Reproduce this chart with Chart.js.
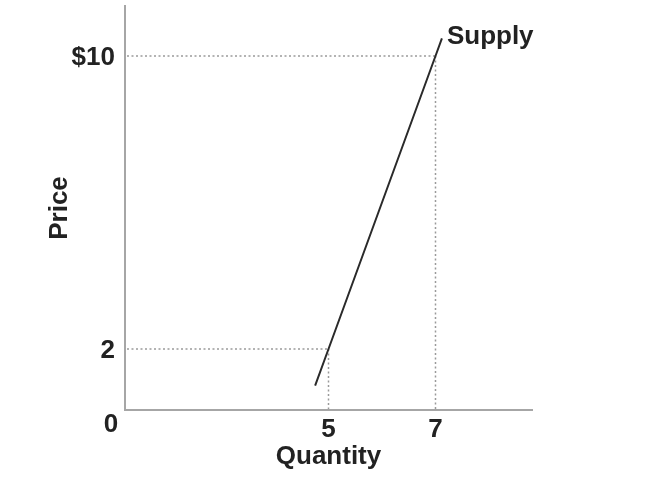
<!DOCTYPE html>
<html>
<head>
<meta charset="utf-8">
<script src="https://cdn.jsdelivr.net/npm/chart.js@4"></script>
<style>
html,body{margin:0;padding:0;background:#fff;}
#wrap{width:655px;height:479px;}
</style>
</head>
<body>
<div id="wrap"><canvas id="c" width="655" height="479"></canvas></div>
<script>
// ---- data ----
const supplyQuantity = [4.75, 5, 7, 7.12];
const supplyPrice    = [1.0, 2, 10, 10.48];
const guideQuantity  = [5, 7];
const guidePrice     = [2, 10];
const xTickValues = [5, 7];
const xTickLabels = ['5', '7'];
const yTickValues = [2, 10];
const yTickLabels = ['2', '$10'];
const originLabel = '0';
const seriesLabel = 'Supply';
const xTitle = 'Quantity';
const yTitle = 'Price';

const FONT = '"Liberation Sans", Arial, sans-serif';
const FS = 26;
const TEXT = '#222';
const AXIS = '#a6a6a6';

const guidesPlugin = {
  id: 'guides',
  beforeDatasetsDraw(chart) {
    const {ctx, scales: {x, y}} = chart;
    ctx.save();
    ctx.strokeStyle = '#9a9a9a';
    ctx.lineWidth = 1.5;
    ctx.setLineDash([2, 2.5]);
    for (let i = 0; i < guideQuantity.length; i++) {
      const px = x.getPixelForValue(guideQuantity[i]);
      const py = y.getPixelForValue(guidePrice[i]);
      ctx.beginPath();
      ctx.moveTo(x.left + 2, py);
      ctx.lineTo(px, py);
      ctx.stroke();
      ctx.beginPath();
      ctx.moveTo(px, py);
      ctx.lineTo(px, y.bottom - 1);
      ctx.stroke();
    }
    ctx.restore();
  },
  afterDraw(chart) {
    const {ctx, scales: {x, y}} = chart;
    ctx.save();
    ctx.fillStyle = TEXT;
    ctx.font = 'bold ' + FS + 'px ' + FONT;
    ctx.textAlign = 'center';
    ctx.textBaseline = 'middle';
    ctx.fillText(originLabel, x.left - 14, y.bottom + 15);
    const n = supplyQuantity.length - 1;
    const lx = x.getPixelForValue(supplyQuantity[n]);
    const ly = y.getPixelForValue(supplyPrice[n]);
    ctx.textAlign = 'left';
    ctx.textBaseline = 'alphabetic';
    ctx.fillText(seriesLabel, lx + 5, ly + 6);
    ctx.restore();
  }
};

new Chart(document.getElementById('c'), {
  type: 'line',
  data: {
    datasets: [{
      label: seriesLabel,
      data: supplyQuantity.map((q, i) => ({x: q, y: supplyPrice[i]})),
      borderColor: '#2a2a2a',
      borderWidth: 2,
      pointRadius: 0,
      tension: 0,
      fill: false
    }]
  },
  options: {
    responsive: false,
    animation: false,
    events: [],
    layout: {padding: {top: 6, right: 123, bottom: 0, left: 0}},
    plugins: {legend: {display: false}, tooltip: {enabled: false}},
    scales: {
      x: {
        type: 'linear',
        min: 1.196,
        max: 8.804,
        grid: {display: false, drawTicks: false},
        border: {display: true, color: AXIS, width: 2},
        afterBuildTicks(s) { s.ticks = xTickValues.map(v => ({value: v})); },
        afterFit(s) { s.height = 69; s.paddingLeft = 0; s.paddingRight = 0; },
        ticks: {
          autoSkip: false,
          maxRotation: 0,
          padding: 4,
          color: TEXT,
          font: {family: FONT, size: FS, weight: 'bold'},
          callback(v) { const i = xTickValues.indexOf(v); return i >= 0 ? xTickLabels[i] : ''; }
        },
        title: {
          display: true, text: xTitle, color: TEXT,
          font: {family: FONT, size: FS, weight: 'bold'},
          padding: {top: 0, bottom: 7}
        }
      },
      y: {
        type: 'linear',
        min: 0.334,
        max: 11.365,
        grid: {display: false, drawTicks: false},
        border: {display: true, color: AXIS, width: 2},
        afterBuildTicks(s) { s.ticks = yTickValues.map(v => ({value: v})); },
        afterFit(s) { s.width = 125; s.paddingTop = 0; s.paddingBottom = 0; },
        ticks: {
          autoSkip: false,
          padding: 10,
          labelOffset: 2,
          color: TEXT,
          font: {family: FONT, size: FS, weight: 'bold'},
          callback(v) { const i = yTickValues.indexOf(v); return i >= 0 ? yTickLabels[i] : ''; }
        },
        title: {
          display: true, text: yTitle, color: TEXT,
          font: {family: FONT, size: FS, weight: 'bold'},
          padding: {top: 44, bottom: 0}
        }
      }
    }
  },
  plugins: [guidesPlugin]
});
</script>
</body>
</html>
